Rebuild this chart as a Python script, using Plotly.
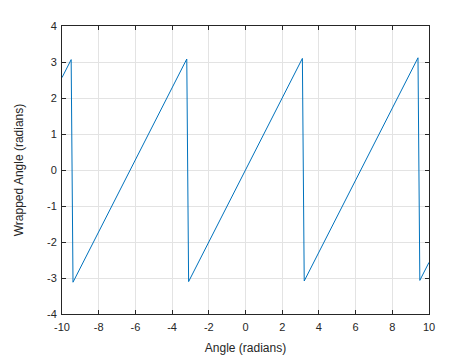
import plotly.graph_objects as go

# vertices of the wrapped-angle polyline
angle = [-10.0, -9.5, -9.4, -3.2, -3.1, 3.1, 3.2, 9.4, 9.5, 10.0]
wrapped = [2.566, 3.066, -3.117, 3.083, -3.1, 3.1, -3.083, 3.117, -3.066, -2.566]

x_ticks = [-10, -8, -6, -4, -2, 0, 2, 4, 6, 8, 10]
y_ticks = [-4, -3, -2, -1, 0, 1, 2, 3, 4]

axis_common = dict(
    showline=True, linecolor="#262626", linewidth=1, mirror="ticks",
    ticks="inside", ticklen=4, tickcolor="#262626", tickwidth=1,
    showgrid=True, gridcolor="#e3e3e3", gridwidth=1, zeroline=False,
    automargin=False,
    tickfont=dict(family="Liberation Sans, Arial", size=11, color="#262626"),
)
title_font = dict(family="Liberation Sans, Arial", size=12, color="#262626")

fig = go.Figure()
fig.add_trace(go.Scatter(x=angle, y=wrapped, mode="lines",
                         line=dict(color="#0072BD", width=1)))

fig.update_xaxes(range=[-10, 10], tickvals=x_ticks,
                 ticktext=[str(v) for v in x_ticks], ticklabelstandoff=3,
                 title=dict(text="Angle (radians)", standoff=11, font=title_font),
                 **axis_common)
fig.update_yaxes(range=[-4, 4], tickvals=y_ticks,
                 ticktext=[str(v) for v in y_ticks], ticklabelstandoff=2,
                 title=dict(text="Wrapped Angle (radians)", standoff=20, font=title_font),
                 **axis_common)

fig.update_layout(width=474, height=355, showlegend=False,
                  paper_bgcolor="white", plot_bgcolor="white",
                  margin=dict(l=62, r=45, t=26, b=41))

fig.write_html("out.html")
